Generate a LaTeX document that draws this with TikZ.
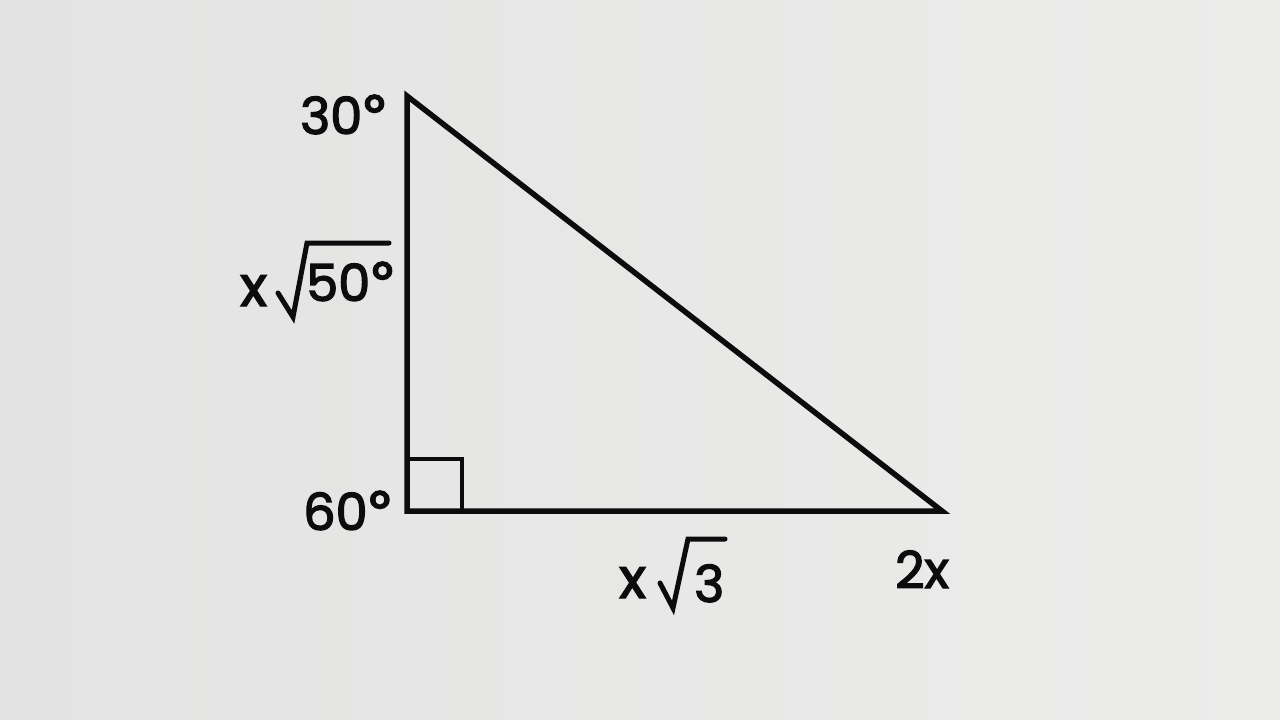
\documentclass[tikz,border=0pt]{standalone}
\usepackage{fontspec}
\setmainfont{Poppins}[FakeBold=2.6]
\newfontfamily\degfont{Fira Sans}[FakeBold=2.2]
\newcommand\dg{{\degfont\fontsize{56}{56}\selectfont °}}
\definecolor{bgl}{HTML}{E2E3E2}
\definecolor{bgr}{HTML}{ECECEB}
\definecolor{ink}{HTML}{0C0C0C}
\tikzset{
  lbl/.style={anchor=base west, inner sep=0pt, text=ink, font=\fontsize{51}{51}\selectfont},
  xlbl/.style={lbl, font=\fontsize{56}{56}\selectfont},
  edge/.style={draw=ink, line width=5.5pt, line join=miter},
  radical/.style={draw=ink, line width=5pt, line join=miter, line cap=round},
  rightmark/.style={draw=ink, line width=4.5pt}
}
\begin{document}
\begin{tikzpicture}[x=1pt,y=-1pt]
\useasboundingbox (0,0) rectangle (1280,720);
\shade[left color=bgl, right color=bgr] (0,0) rectangle (1280,720);
% vertices
\coordinate (A) at (407,96);
\coordinate (B) at (407,511);
\coordinate (C) at (942,511);
\draw[edge] (A) -- (B) -- (C) -- cycle;
% right angle mark
\coordinate (R1) at (407,459);
\coordinate (R2) at (462,459);
\coordinate (R3) at (462,511);
\draw[rightmark] (R1) -- (R2) -- (R3);
% labels
\node[lbl] (a30) at (300,134) {30\dg};
\node[lbl] (a60) at (303,530) {60\dg};
\node[lbl] (twox) at (895,588) {2x};
% x sqrt 50
\node[xlbl] (xl) at (240,306) {x};
\coordinate (r1a) at (278,293);
\coordinate (r1b) at (293,317);
\coordinate (r1c) at (307,243);
\coordinate (r1d) at (389,243);
\draw[radical] (r1a) -- (r1b) -- (r1c) -- (r1d);
\node[lbl] (v50) at (306,301) {50\dg};
% x sqrt 3
\node[xlbl] (xb) at (619,598) {x};
\coordinate (r2a) at (660,583);
\coordinate (r2b) at (673,608);
\coordinate (r2c) at (688,539);
\coordinate (r2d) at (725,539);
\draw[radical] (r2a) -- (r2b) -- (r2c) -- (r2d);
\node[lbl] (v3) at (694,602) {3};
\end{tikzpicture}
\end{document}
